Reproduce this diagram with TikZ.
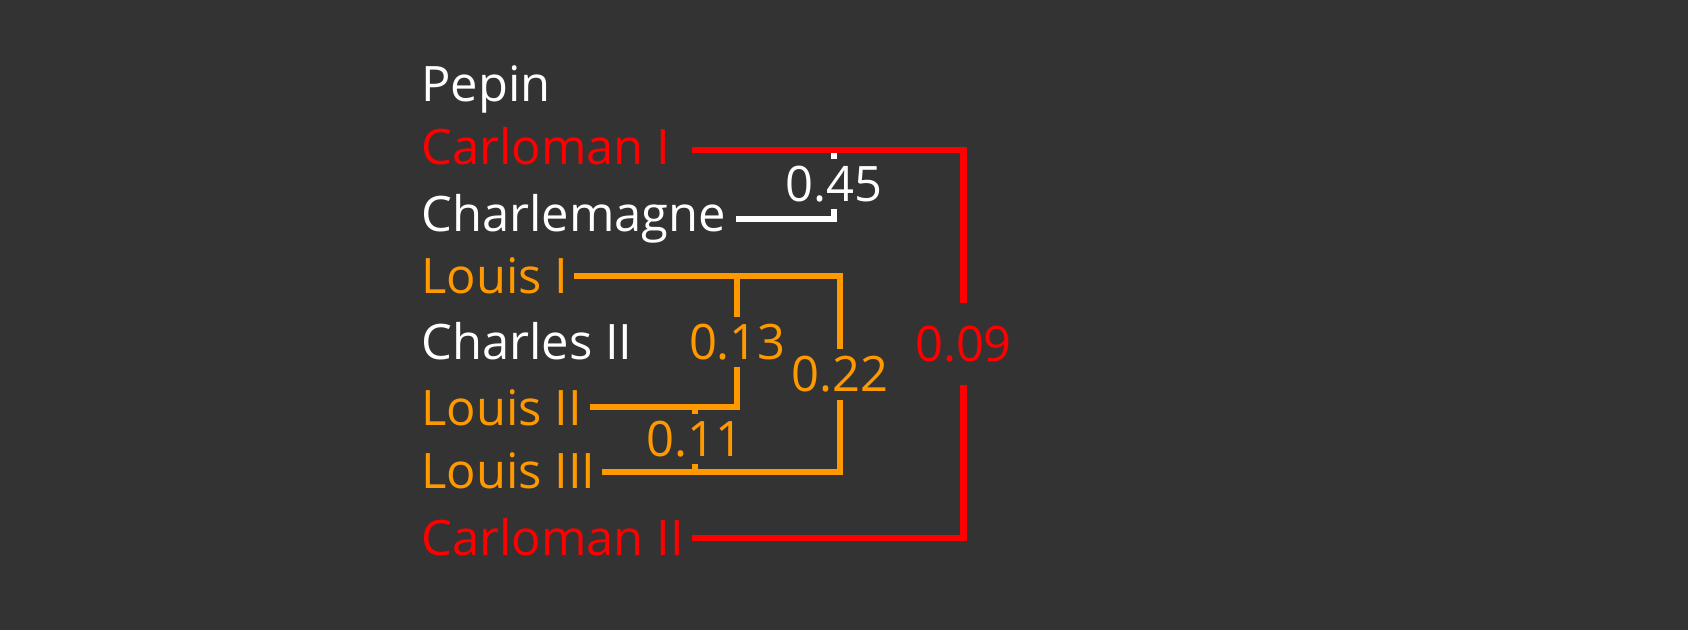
\documentclass[tikz,border=0pt]{standalone}
\usepackage{fontspec}
\setmainfont{Open Sans}
\definecolor{bg}{HTML}{333333}
\definecolor{dred}{HTML}{FF0000}
\definecolor{dorange}{HTML}{FF9900}
\begin{document}
\begin{tikzpicture}[x=0.5pt,y=-0.5pt,
  namebox/.style={anchor=base west, inner sep=0pt, font=\fontsize{22.7}{27}\selectfont},
  valbox/.style={inner sep=0pt, minimum height=23pt, font=\fontsize{22.7}{27}\selectfont},
  link/.style={line width=2.8pt, line join=miter}]
\fill[bg] (0,0) rectangle (1568,585);
% names
\node[namebox, white]   (pepin) at (391,94.5) {Pepin};
\node[namebox, dred]    (carA)  at (391,153)  {Carloman I};
\node[namebox, white]   (charl) at (391,215)  {Charlemagne};
\node[namebox, dorange] (louA)  at (391,273)  {Louis I};
\node[namebox, white]   (charB) at (391,334)  {Charles II};
\node[namebox, dorange] (louB)  at (391,395)  {Louis II};
\node[namebox, dorange] (louC)  at (391,454)  {Louis III};
\node[namebox, dred]    (carB)  at (391,516)  {Carloman II};
% values
\node[valbox, white]   (v45) at (775,171)   {0.45};
\node[valbox, dorange] (v13) at (685,317.7) {0.13};
\node[valbox, dorange] (v22) at (780.6,347.7) {0.22};
\node[valbox, dorange] (v11) at (645.3,407.8) {0.11};
\node[valbox, dred, minimum height=38pt] (v09) at (895,319.6) {0.09};
% line starts
\coordinate (sA)  at (642.6,139.4);
\coordinate (sCh) at (684,203);
\coordinate (sLA) at (533,256.4);
\coordinate (sLB) at (548,377.8);
\coordinate (sLC) at (559,438.2);
\coordinate (sB)  at (642.6,500);
% white bracket
\draw[link, white] (sCh) -| (v45.south);
\draw[link, white] (v45.north) -- (v45.north |- sA);
% orange brackets
\draw[link, dorange] (v22.north) |- (sLA);
\draw[link, dorange] (v22.south) |- (sLC);
\draw[link, dorange] (v13.north) -- (v13.north |- sLA);
\draw[link, dorange] (v13.south) |- (sLB);
\draw[link, dorange] (v11.north) -- (v11.north |- sLB);
\draw[link, dorange] (v11.south) -- (v11.south |- sLC);
% red bracket
\draw[link, dred] (v09.north) |- (sA);
\draw[link, dred] (v09.south) |- (sB);
\end{tikzpicture}
\end{document}
